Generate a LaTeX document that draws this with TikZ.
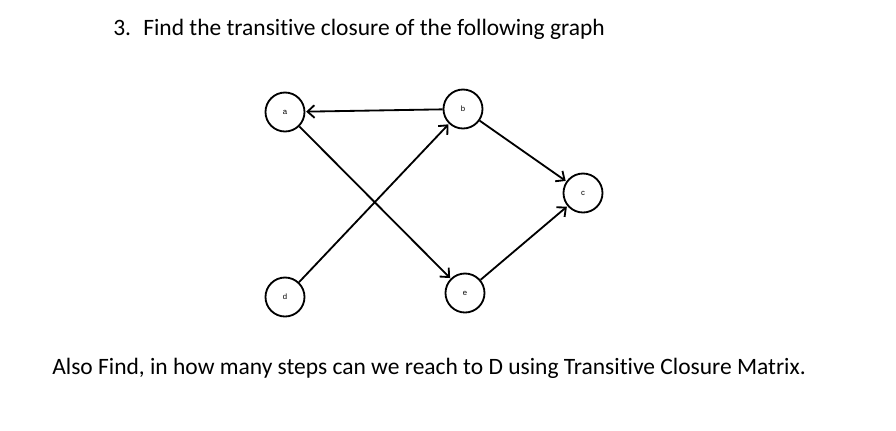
\documentclass[tikz,border=0pt]{standalone}
\usepackage{fontspec}
\setmainfont[Ligatures=NoCommon]{Carlito}
\newfontfamily\labfont{Liberation Sans}
\usetikzlibrary{arrows.meta}
\begin{document}
\begin{tikzpicture}[x=0.025cm, y=-0.025cm, >={Straight Barb[length=5pt,width=9pt]}]
	\tikzset{vertex/.style={draw, circle, line width=1.3pt, minimum size=39*0.025cm, inner sep=0pt, font=\labfont\fontsize{5.5}{6}\selectfont},
		edge/.style={->, line width=1.3pt, shorten >=0.5pt},
		txt/.style={anchor=base west, inner sep=0pt, font=\fontsize{16.7}{20}\selectfont}}
	\useasboundingbox (0,0) rectangle (896,430);
	% dinh
	\node[vertex] (a) at (285,112) {a};
	\node[vertex] (b) at (463,109) {b};
	\node[vertex] (c) at (583,193) {c};
	\node[vertex] (d) at (285,297) {d};
	\node[vertex] (e) at (465,293) {e};
	% canh
	\draw[edge] (b)--(a);
	\draw[edge] (a)--(e);
	\draw[edge] (d)--(b);
	\draw[edge] (b)--(c);
	\draw[edge] (e)--(c);
	% chu
	\node[txt] (num) at (113,35) {3.};
	\node[txt] (q1) at (143,35) {Find the transitive closure of the following graph};
	\node[txt] (q2) at (52,374) {Also Find, in how many steps can we reach to D using Transitive Closure Matrix.};
\end{tikzpicture}
\end{document}
